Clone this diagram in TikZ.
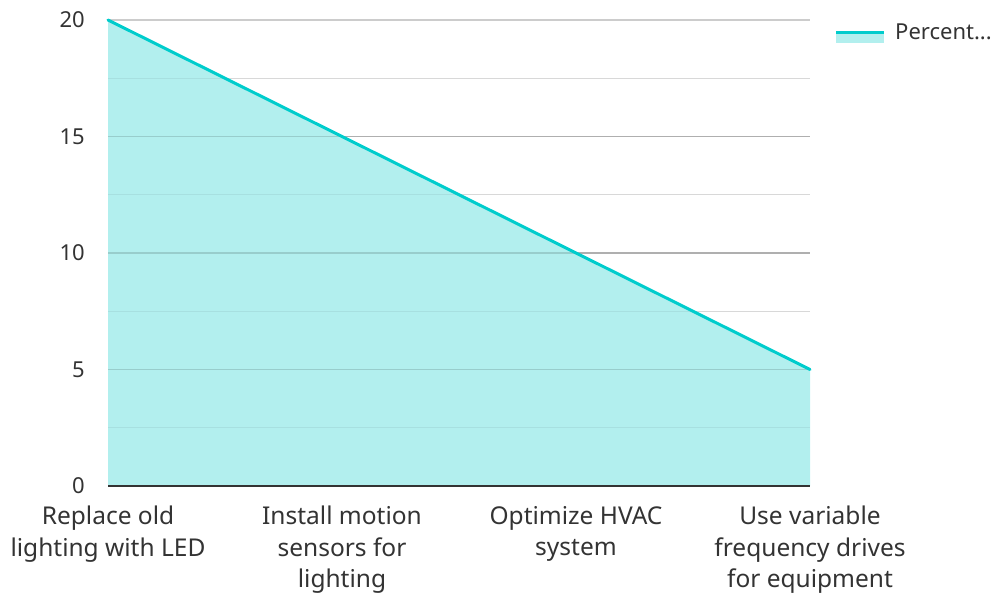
\documentclass[tikz,border=0pt]{standalone}
\usepackage{fontspec}
\setmainfont{Noto Sans}
\definecolor{linec}{HTML}{00CCCC}
\definecolor{fillc}{HTML}{B2EFEE}
\definecolor{majorg}{HTML}{CCCCCC}
\definecolor{minorg}{HTML}{E6E6E6}
\definecolor{txt}{HTML}{333333}
\begin{document}
\begin{tikzpicture}[x=1pt,y=-1pt,
  lbl/.style={font=\fontsize{22}{31.5}\selectfont,text=txt,inner sep=0pt},
  ticklbl/.style={lbl,anchor=east},
  catlbl/.style={font=\fontsize{24.5}{31.5}\selectfont,text=txt,inner sep=0pt,align=center,anchor=north},
  majorline/.style={draw=majorg,line width=1.2pt},
  minorline/.style={draw=minorg,line width=1.2pt},
  dataline/.style={draw=linec,line width=3pt,line cap=round,line join=round}]
\useasboundingbox (0,0) rectangle (1005,593);
% grid
\foreach \y in {78.25,194.75,311.25,427.75} \draw[minorline] (108,\y) -- (810,\y);
\foreach \y in {20,136.5,253,369.5} \draw[majorline] (108,\y) -- (810,\y);
% area
\coordinate (p1) at (108,20);
\coordinate (p4) at (810,369.5);
\coordinate (b1) at (108,486);
\coordinate (b4) at (810,486);
\fill[fillc] (p1) -- (p4) -- (b4) -- (b1) -- cycle;
% grid over area (darker tint)
\foreach \y in {78.25,194.75,311.25,427.75} \draw[draw=black,opacity=0.06,line width=1.2pt] (108,\y) -- (810,\y);
\foreach \y in {136.5,253,369.5} \draw[draw=black,opacity=0.14,line width=1.2pt] (108,\y) -- (810,\y);
\draw[dataline] (p1) -- (p4);
% axis
\draw[draw=txt,line width=2pt] (b1) -- (b4);
% tick labels
\node[ticklbl] (t20) at (85,20) {20};
\node[ticklbl] (t15) at (85,136.5) {15};
\node[ticklbl] (t10) at (85,253) {10};
\node[ticklbl] (t5) at (85,369.5) {5};
\node[ticklbl] (t0) at (85,486) {0};
% category labels
\node[catlbl] (c1) at (108,506) {Replace old\\lighting with LED};
\node[catlbl] (c2) at (342,506) {Install motion\\sensors for\\lighting};
\node[catlbl] (c3) at (576,506) {Optimize HVAC\\system};
\node[catlbl] (c4) at (810,506) {Use variable\\frequency drives\\for equipment};
% legend
\fill[fillc] (836,34) rectangle (884,43);
\draw[draw=linec,line width=3pt] (836,33) -- (884,33);
\node[lbl,anchor=west] (leg) at (895,32) {Percent...};
\end{tikzpicture}
\end{document}
